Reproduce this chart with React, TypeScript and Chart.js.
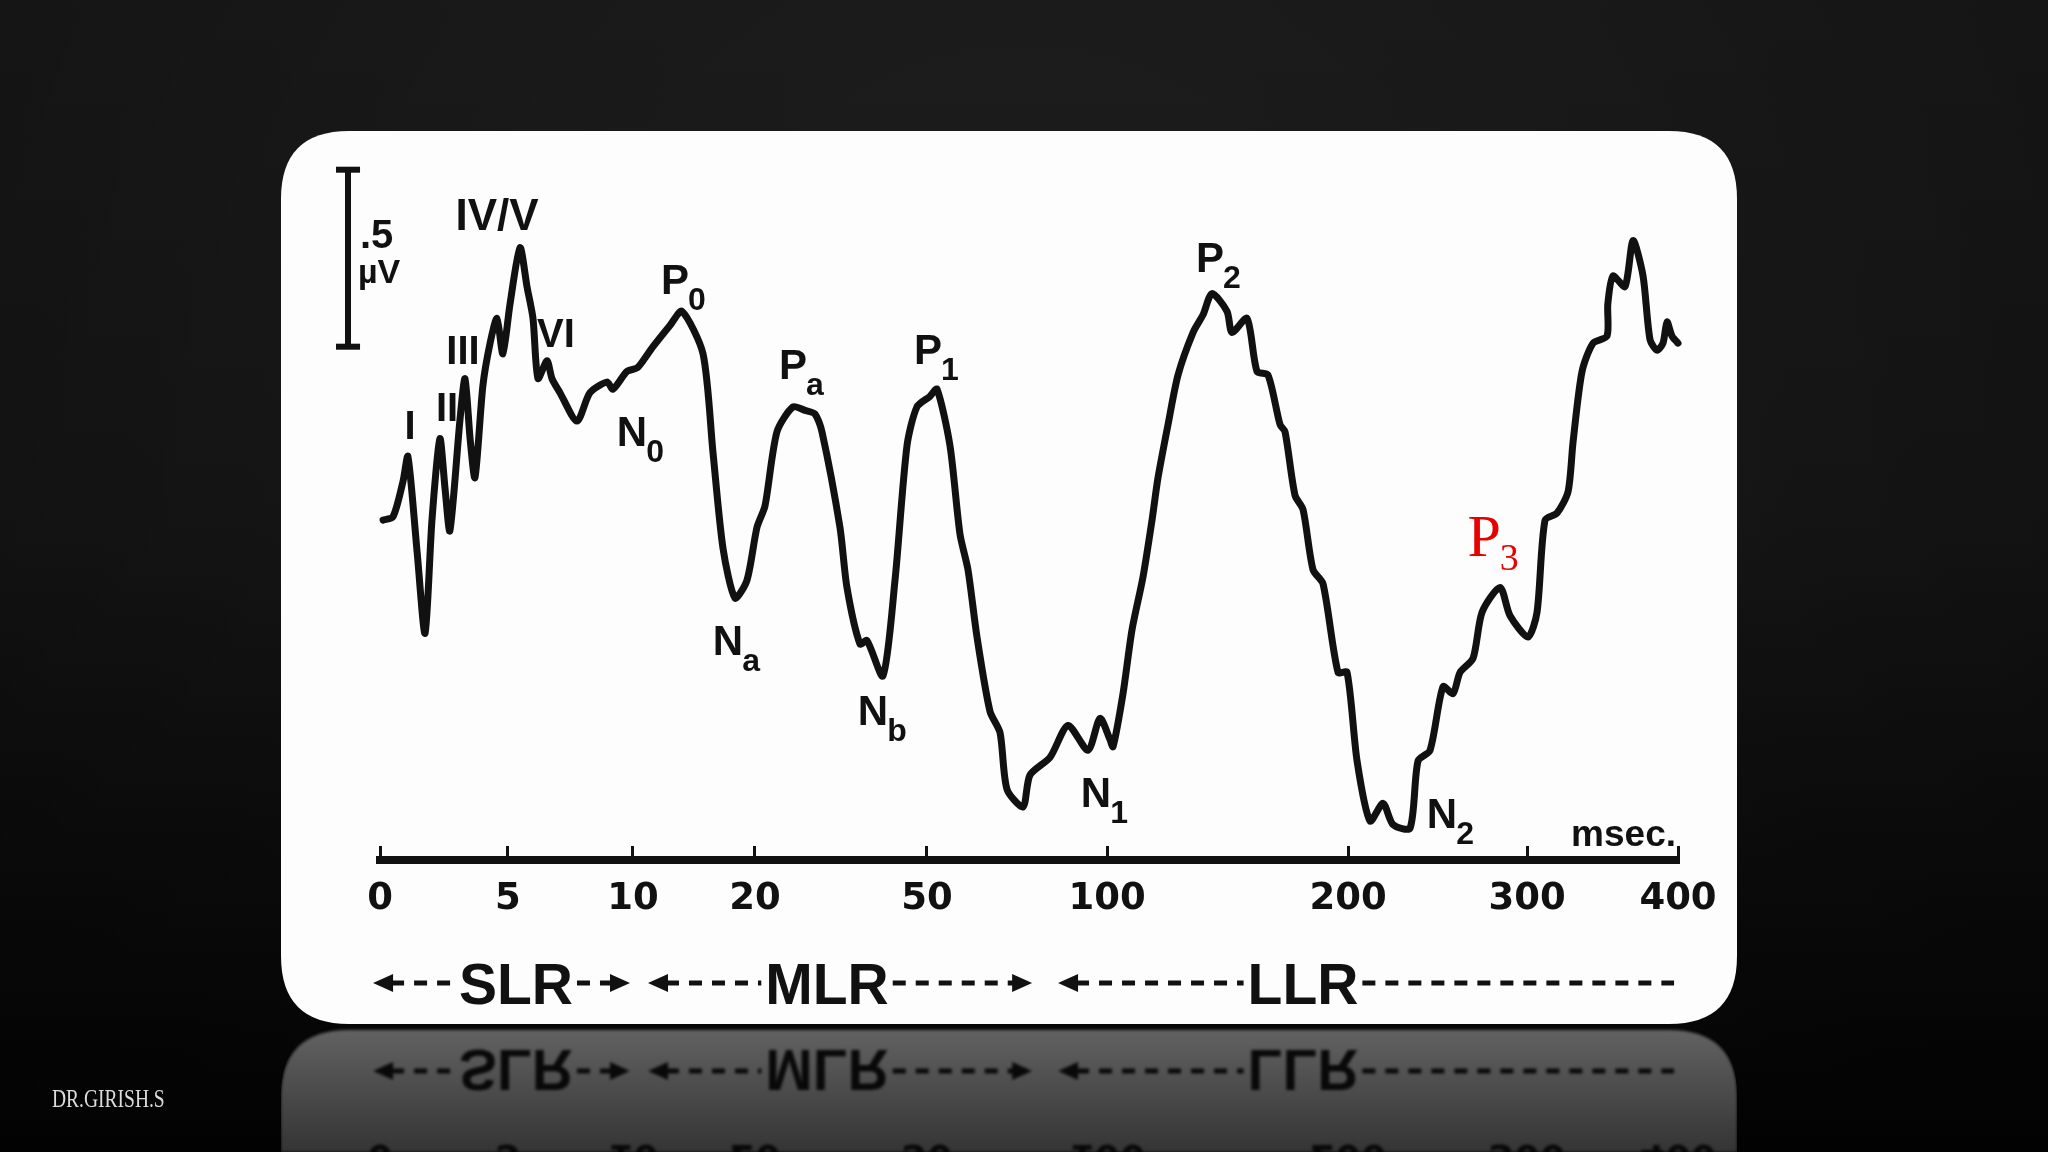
import React, { useEffect, useRef } from 'react';
import { Chart, LinearScale, registerables } from 'chart.js';

// ---------- data ----------
const TICK_MS = [0, 5, 10, 20, 50, 100, 200, 300, 400];
const TICK_LABELS = ['0', '5', '10', '20', '50', '100', '200', '300', '400'];
// relative position of each tick along the (non-uniform) latency axis
const TICK_FRACTIONS = [0, 0.0986, 0.1949, 0.2889, 0.4214, 0.5601, 0.7458, 0.8837, 1];

const WAVE_MS = [
  0.12, 0.51, 0.9, 1.09, 1.45, 1.76, 2.03, 2.34, 2.54, 2.73, 3.12, 3.32, 3.52, 3.71, 4.02, 4.3, 4.57, 4.8,
  5.08, 5.48, 5.76, 6.0, 6.2, 6.56, 6.76, 7.08, 7.76, 8.28, 8.96, 9.2, 9.76,
  10.33, 10.82, 11.64, 13.03, 14.02, 15.74, 16.56, 17.38, 18.36, 19.34,
  20.35, 21.74, 23.84, 26.63, 28.72, 30.46, 31.68, 34.82, 36.04, 38.31, 39.53, 42.32, 44.42, 46.51, 48.25,
  50.83, 52.78, 56.39, 59.17, 61.39, 63.89, 67.5, 70.28, 72.22, 76.67, 78.61, 84.17, 89.17, 94.72, 98.06,
  101.24, 102.49, 106.64, 110.37, 114.94, 118.67, 121.16, 125.31, 129.46, 135.68, 139.83, 143.56, 149.79,
  151.86, 158.09, 162.24, 166.8, 171.78, 173.85, 178.0, 181.32, 185.47, 189.62, 195.85, 199.59,
  205.03, 212.29, 219.55, 225.14, 234.64, 239.11, 245.81, 253.08, 258.66, 262.57, 269.84, 274.87, 284.92, 290.51,
  300.66, 306.62, 311.92, 319.87, 327.15, 330.46, 336.43, 343.71, 352.98, 353.5, 356.96, 364.91, 370.21,
  376.83, 381.46, 386.1, 390.07, 392.72, 396.03, 400.0,
];
const WAVE_UV = [
  0.96, 0.97, 1.07, 1.14, 0.87, 0.64, 0.96, 1.19, 1.05, 0.93, 1.24, 1.36, 1.19, 1.08, 1.34, 1.46, 1.53, 1.43,
  1.57, 1.73, 1.62, 1.53, 1.36, 1.41, 1.36, 1.32, 1.24, 1.32, 1.35, 1.33, 1.38,
  1.39, 1.41, 1.45, 1.51, 1.55, 1.43, 1.15, 0.88, 0.74, 0.79,
  0.94, 1.0, 1.21, 1.28, 1.27, 1.26, 1.21, 0.94, 0.77, 0.61, 0.62, 0.52, 0.79, 1.17, 1.28,
  1.31, 1.33, 1.17, 0.92, 0.82, 0.63, 0.42, 0.36, 0.2, 0.15, 0.24, 0.29, 0.38, 0.31, 0.4,
  0.34, 0.32, 0.47, 0.65, 0.8, 0.96, 1.08, 1.23, 1.37, 1.49, 1.54, 1.6, 1.55,
  1.49, 1.53, 1.38, 1.37, 1.23, 1.21, 1.03, 0.99, 0.82, 0.78, 0.53, 0.53,
  0.28, 0.11, 0.16, 0.1, 0.09, 0.28, 0.31, 0.49, 0.47, 0.53, 0.57, 0.7, 0.77, 0.69,
  0.63, 0.7, 0.96, 0.98, 1.04, 1.18, 1.38, 1.46, 1.48, 1.57, 1.65, 1.62, 1.75,
  1.65, 1.47, 1.44, 1.46, 1.52, 1.48, 1.46,
];

// calibration bar: 0.5 µV (vertical bar plus its two end caps)
const SCALE_BAR_MS = [-1.25, -1.25];
const SCALE_BAR_UV = [1.45, 1.95];
const SCALE_CAP_MS = [-1.72, -0.78];
const SCALE_BAR_TEXT = ['.5', 'µV'];
const SCALE_BAR_TEXT_UV = [1.73, 1.63];

// peak labels
const PEAK_TEXT = ['I', 'II', 'III', 'IV/V', 'VI', 'P', 'N', 'N', 'P', 'N', 'P', 'N', 'P', 'N'];
const PEAK_SUB = ['', '', '', '', '', '0', '0', 'a', 'a', 'b', '1', '1', '2', '2'];
const PEAK_MS = [1.17, 2.62, 3.24, 4.57, 6.92, 13.44, 9.96, 17.79, 26.63, 40.58, 50.28, 96.95, 142.7, 252.5];
const PEAK_UV = [1.19, 1.24, 1.4, 1.78, 1.45, 1.6, 1.17, 0.58, 1.36, 0.38, 1.4, 0.15, 1.66, 0.09];

const P3_TEXT = 'P';
const P3_SUB = '3';
const P3_MS = 276.0;
const P3_UV = 0.86;

const AXIS_UNIT = 'msec.';

// response regions
const REGION_NAMES = ['SLR', 'MLR', 'LLR'];
const REGION_FROM = [-0.27, 11.23, 86.4];
const REGION_TO = [9.88, 79.2, 397.4];
const REGION_CENTER = [5.32, 32.56, 181.3];
const REGION_RIGHT_ARROW = [true, true, false];

const CREDIT = 'DR.GIRISH.S';

// ---------- styles / layout ----------
const W = 2048;
const H = 1152;
const PANEL = { x: 281, y: 131, w: 1456, h: 893, r: 68 };
const MIRROR_Y = 1027;
const INK = '#111111';
const SANS = '"Liberation Sans", Arial, sans-serif';

// ---------- piecewise latency scale ----------
function msToFrac(v: number): number {
  const n = TICK_MS.length;
  let i = 0;
  while (i < n - 2 && v > TICK_MS[i + 1]) i++;
  const m0 = TICK_MS[i], m1 = TICK_MS[i + 1];
  const f0 = TICK_FRACTIONS[i], f1 = TICK_FRACTIONS[i + 1];
  return f0 + ((v - m0) / (m1 - m0)) * (f1 - f0);
}
function fracToMs(f: number): number {
  const n = TICK_FRACTIONS.length;
  let i = 0;
  while (i < n - 2 && f > TICK_FRACTIONS[i + 1]) i++;
  const m0 = TICK_MS[i], m1 = TICK_MS[i + 1];
  const f0 = TICK_FRACTIONS[i], f1 = TICK_FRACTIONS[i + 1];
  return m0 + ((f - f0) / (f1 - f0)) * (m1 - m0);
}

class PiecewiseScale extends LinearScale {
  static id = 'piecewise';
  static defaults = LinearScale.defaults;
  getPixelForValue(value: any) {
    if (value === null || value === undefined || isNaN(value)) return NaN;
    return this.getPixelForDecimal(msToFrac(+value));
  }
  getValueForPixel(pixel: number) {
    return fracToMs(this.getDecimalForPixel(pixel));
  }
}

Chart.register(...registerables, PiecewiseScale as any);

// ---------- drawing helpers ----------
function roundRectPath(ctx: CanvasRenderingContext2D, x: number, y: number, w: number, h: number, r: number) {
  ctx.beginPath();
  ctx.moveTo(x + r, y);
  ctx.lineTo(x + w - r, y);
  ctx.quadraticCurveTo(x + w, y, x + w, y + r);
  ctx.lineTo(x + w, y + h - r);
  ctx.quadraticCurveTo(x + w, y + h, x + w - r, y + h);
  ctx.lineTo(x + r, y + h);
  ctx.quadraticCurveTo(x, y + h, x, y + h - r);
  ctx.lineTo(x, y + r);
  ctx.quadraticCurveTo(x, y, x + r, y);
  ctx.closePath();
}

function drawLabel(
  ctx: CanvasRenderingContext2D, x: number, y: number, main: string, sub: string,
  mainFont: string, subFont: string, color: string, drop: number,
) {
  ctx.fillStyle = color;
  ctx.font = mainFont;
  ctx.textAlign = 'center';
  ctx.textBaseline = 'alphabetic';
  ctx.fillText(main, x, y);
  if (sub) {
    const w = ctx.measureText(main).width;
    ctx.font = subFont;
    ctx.textAlign = 'left';
    ctx.fillText(sub, x + w / 2 - 1, y + drop);
  }
}

function arrowHead(ctx: CanvasRenderingContext2D, tipX: number, y: number, dir: number) {
  ctx.beginPath();
  ctx.moveTo(tipX, y);
  ctx.lineTo(tipX - dir * 20, y - 9);
  ctx.lineTo(tipX - dir * 20, y + 9);
  ctx.closePath();
  ctx.fill();
}

function dashes(ctx: CanvasRenderingContext2D, x1: number, x2: number, y: number) {
  if (x2 <= x1) return;
  ctx.save();
  ctx.setLineDash([13, 10]);
  ctx.lineWidth = 5;
  ctx.lineCap = 'butt';
  ctx.beginPath();
  ctx.moveTo(x1, y);
  ctx.lineTo(x2, y);
  ctx.stroke();
  ctx.restore();
}

const slidePlugin = {
  id: 'slide',
  beforeDraw(chart: any) {
    const ctx: CanvasRenderingContext2D = chart.ctx;
    ctx.save();
    const g = ctx.createLinearGradient(0, 0, 0, H);
    g.addColorStop(0, '#1c1c1c');
    g.addColorStop(0.45, '#181818');
    g.addColorStop(1, '#030303');
    ctx.fillStyle = g;
    ctx.fillRect(0, 0, W, H);
    const rg = ctx.createRadialGradient(W / 2, H * 0.35, 300, W / 2, H * 0.35, 1500);
    rg.addColorStop(0, 'rgba(0,0,0,0)');
    rg.addColorStop(1, 'rgba(0,0,0,0.4)');
    ctx.fillStyle = rg;
    ctx.fillRect(0, 0, W, H);
    roundRectPath(ctx, PANEL.x, PANEL.y, PANEL.w, PANEL.h, PANEL.r);
    ctx.fillStyle = '#fdfdfd';
    ctx.fill();
    ctx.restore();
  },
  afterDraw(chart: any) {
    const ctx: CanvasRenderingContext2D = chart.ctx;
    const xs = chart.scales.x;
    const ys = chart.scales.y;
    const area = chart.chartArea;
    ctx.save();

    // calibration text
    const barX = xs.getPixelForValue(SCALE_BAR_MS[0]);
    ctx.fillStyle = INK;
    ctx.textAlign = 'left';
    ctx.textBaseline = 'alphabetic';
    ctx.font = `bold 40px ${SANS}`;
    ctx.fillText(SCALE_BAR_TEXT[0], barX + 12, ys.getPixelForValue(SCALE_BAR_TEXT_UV[0]));
    ctx.font = `bold 34px ${SANS}`;
    ctx.fillText(SCALE_BAR_TEXT[1], barX + 10, ys.getPixelForValue(SCALE_BAR_TEXT_UV[1]));

    // peak labels
    for (let i = 0; i < PEAK_TEXT.length; i++) {
      const isRoman = PEAK_SUB[i] === '';
      const size = PEAK_TEXT[i] === 'IV/V' ? 44 : isRoman ? 40 : 42;
      drawLabel(
        ctx, xs.getPixelForValue(PEAK_MS[i]), ys.getPixelForValue(PEAK_UV[i]),
        PEAK_TEXT[i], PEAK_SUB[i], `bold ${size}px ${SANS}`, `bold 32px ${SANS}`, INK, 16,
      );
    }
    drawLabel(
      ctx, xs.getPixelForValue(P3_MS), ys.getPixelForValue(P3_UV), P3_TEXT, P3_SUB,
      `60px "Liberation Serif", "DejaVu Serif", serif`, `38px "Liberation Serif", "DejaVu Serif", serif`,
      '#e60000', 14,
    );

    // axis unit
    ctx.fillStyle = INK;
    ctx.font = `bold 37px ${SANS}`;
    ctx.textAlign = 'right';
    ctx.textBaseline = 'alphabetic';
    ctx.fillText(AXIS_UNIT, xs.getPixelForValue(400) - 2, area.bottom - 14);

    // region row
    const rowY = area.bottom + 123;
    ctx.fillStyle = INK;
    ctx.strokeStyle = INK;
    for (let i = 0; i < REGION_NAMES.length; i++) {
      const x1 = xs.getPixelForValue(REGION_FROM[i]);
      const x2 = xs.getPixelForValue(REGION_TO[i]);
      const xc = xs.getPixelForValue(REGION_CENTER[i]);
      ctx.font = `bold 57px ${SANS}`;
      ctx.textAlign = 'center';
      ctx.textBaseline = 'alphabetic';
      const tw = ctx.measureText(REGION_NAMES[i]).width;
      ctx.fillText(REGION_NAMES[i], xc, rowY + 21);
      arrowHead(ctx, x1, rowY, -1);
      dashes(ctx, x1 + 18, xc - tw / 2 - 4, rowY);
      if (REGION_RIGHT_ARROW[i]) {
        dashes(ctx, xc + tw / 2 + 4, x2 - 18, rowY);
        arrowHead(ctx, x2, rowY, 1);
      } else {
        dashes(ctx, xc + tw / 2 + 4, x2, rowY);
      }
    }
    ctx.restore();

    // reflection of the panel
    const srcTop = 2 * MIRROR_Y - H;
    const srcH = MIRROR_Y - srcTop;
    const off = document.createElement('canvas');
    off.width = W;
    off.height = srcH;
    const octx = off.getContext('2d')!;
    octx.drawImage(chart.canvas, 0, srcTop, W, srcH, 0, 0, W, srcH);
    ctx.save();
    roundRectPath(ctx, PANEL.x, MIRROR_Y, PANEL.w, PANEL.h, PANEL.r);
    ctx.clip();
    ctx.fillStyle = '#060606';
    ctx.fillRect(0, MIRROR_Y, W, H - MIRROR_Y);
    ctx.save();
    ctx.translate(0, 2 * MIRROR_Y);
    ctx.scale(1, -1);
    ctx.globalAlpha = 0.38;
    ctx.filter = 'blur(1.5px)';
    ctx.drawImage(off, 0, srcTop);
    ctx.filter = 'none';
    ctx.restore();
    const fg = ctx.createLinearGradient(0, MIRROR_Y, 0, H);
    fg.addColorStop(0, 'rgba(6,6,6,0)');
    fg.addColorStop(1, 'rgba(6,6,6,0.5)');
    ctx.fillStyle = fg;
    ctx.fillRect(0, MIRROR_Y, W, H - MIRROR_Y);
    ctx.restore();

    // credit
    ctx.save();
    ctx.fillStyle = '#dcdcdc';
    ctx.font = `25px "Liberation Serif", serif`;
    ctx.textAlign = 'left';
    ctx.textBaseline = 'alphabetic';
    ctx.translate(52, 1107);
    ctx.scale(0.78, 1);
    ctx.fillText(CREDIT, 0, 0);
    ctx.restore();
  },
};

export default function App() {
  const ref = useRef<HTMLCanvasElement>(null);
  useEffect(() => {
    const canvas = ref.current;
    if (!canvas) return;
    const barStyle = {
      borderColor: INK,
      borderWidth: 6,
      pointRadius: 0,
      clip: false,
    };
    const chart = new Chart(canvas, {
      type: 'line',
      data: {
        datasets: [
          {
            data: WAVE_MS.map((x, i) => ({ x, y: WAVE_UV[i] })),
            borderColor: INK,
            borderWidth: 7,
            pointRadius: 0,
            tension: 0.25,
            borderJoinStyle: 'round',
            borderCapStyle: 'round',
            clip: false,
          } as any,
          { ...barStyle, data: SCALE_BAR_MS.map((x, i) => ({ x, y: SCALE_BAR_UV[i] })) } as any,
          { ...barStyle, data: SCALE_CAP_MS.map((x) => ({ x, y: SCALE_BAR_UV[0] })) } as any,
          { ...barStyle, data: SCALE_CAP_MS.map((x) => ({ x, y: SCALE_BAR_UV[1] })) } as any,
        ],
      },
      options: {
        responsive: false,
        animation: false,
        devicePixelRatio: 1,
        events: [],
        layout: { padding: { left: 380, right: 370, top: 152, bottom: 212 } },
        plugins: { legend: { display: false }, tooltip: { enabled: false } },
        scales: {
          x: {
            type: 'piecewise',
            afterFit: (s: any) => { s.height = 80; },
            afterBuildTicks: (s: any) => { s.ticks = TICK_MS.map((v) => ({ value: v })); },
            grid: {
              display: true, drawOnChartArea: false, drawTicks: true,
              tickLength: -14, color: INK, lineWidth: 3,
            },
            border: { display: true, color: INK, width: 8 },
            ticks: {
              autoSkip: false, maxRotation: 0, padding: 31, color: INK,
              font: { family: 'DejaVu Sans', size: 37, weight: 'bold' },
              callback: (_v: any, i: number) => TICK_LABELS[i],
            },
          } as any,
          y: { type: 'linear', display: false, min: 0, max: 2 },
        },
      },
      plugins: [slidePlugin],
    });
    return () => chart.destroy();
  }, []);
  return (
    <div style={{ position: 'fixed', left: 0, top: 0, width: W, height: H }}>
      <canvas ref={ref} width={W} height={H} style={{ display: 'block', width: W, height: H }} />
    </div>
  );
}
